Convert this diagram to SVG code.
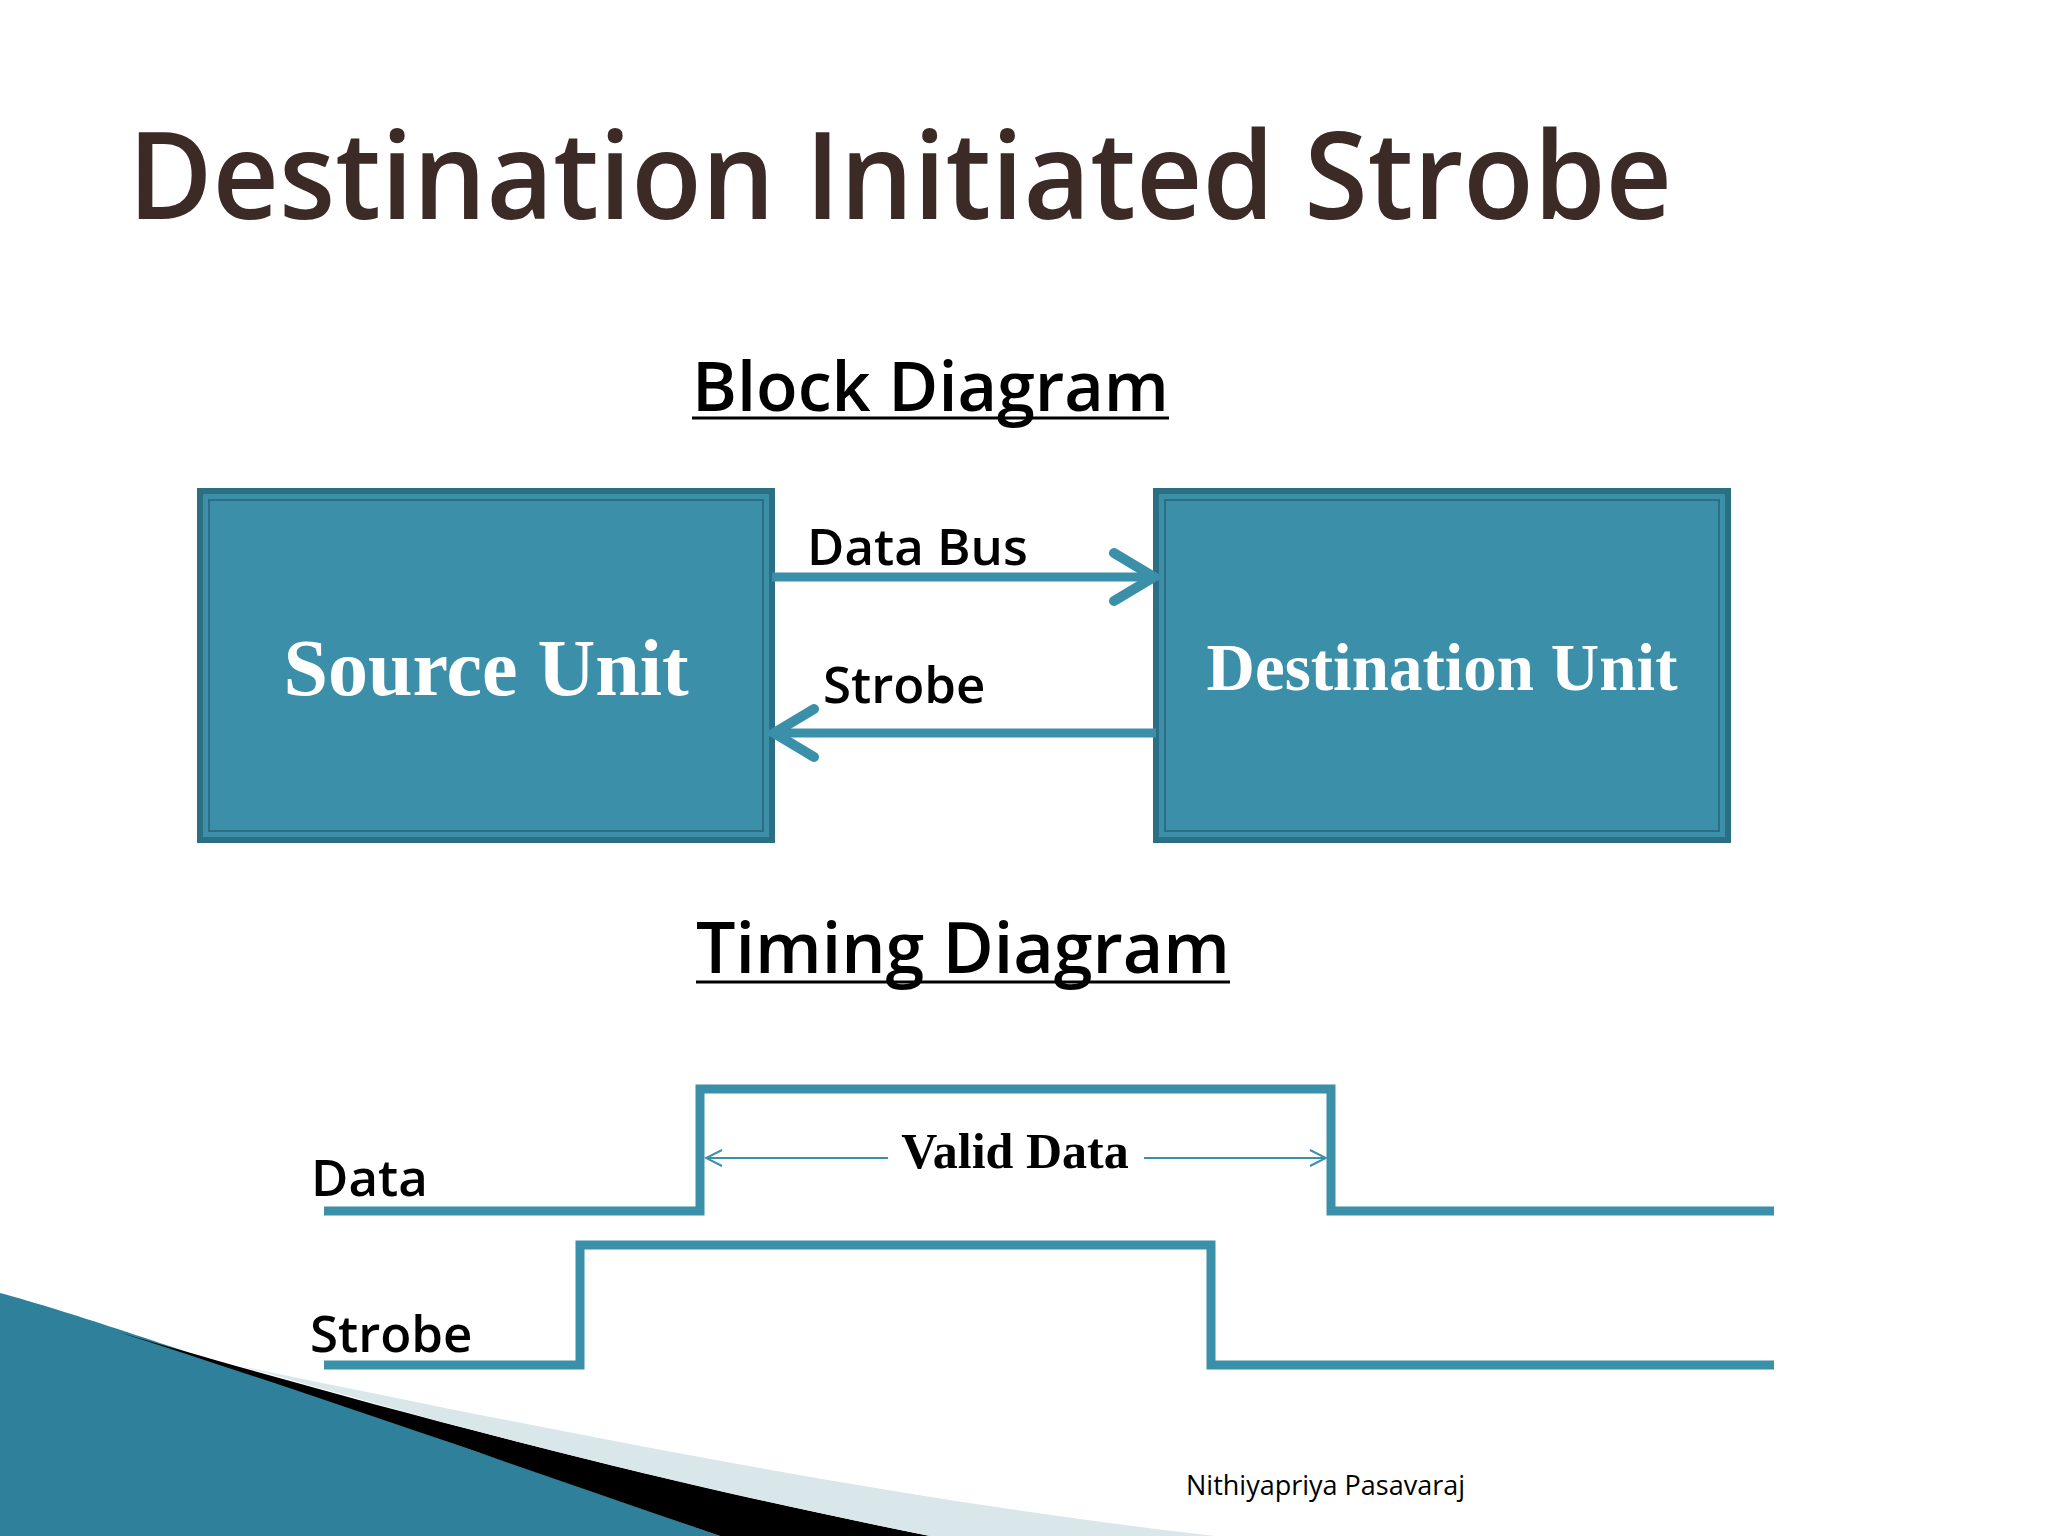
<svg xmlns="http://www.w3.org/2000/svg" width="2048" height="1536" viewBox="0 0 2048 1536">
<defs>
<style>
.sans{font-family:"Open Sans","DejaVu Sans",sans-serif;font-weight:600}
.ser{font-family:"Liberation Serif",serif;font-weight:bold}
.box{fill:#3b8fa9;stroke:#2c6f84;stroke-width:6}
.inner{fill:none;stroke:#2c6f84;stroke-width:2}
.sig{fill:none;stroke:#3a90a8;stroke-width:9}
.thin{stroke:#3a90a8;stroke-width:2;fill:none}
</style>
<marker id="ah" viewBox="0 0 20 20" refX="18" refY="10" markerWidth="20" markerHeight="20" markerUnits="userSpaceOnUse" orient="auto"><path d="M2 2 L18 10 L2 18" fill="none" stroke="#3a90a8" stroke-width="2"/></marker>
<marker id="big" viewBox="0 0 60 60" refX="54" refY="30" markerWidth="60" markerHeight="60" markerUnits="userSpaceOnUse" orient="auto"><path d="M14 6 L54 30 L14 54" fill="none" stroke="#3a90a8" stroke-width="10" stroke-linecap="round"/></marker>
</defs>
<rect width="2048" height="1536" fill="#fff"/>
<g id="swoosh">
<path d="M0 1293 C100 1320 300 1390 720 1536 L0 1536 Z" fill="#2f819b"/>
<path d="M118 1332 C300 1385 600 1470 930 1536 L720 1536 C500 1460 300 1390 118 1332 Z" fill="#000"/>
<path d="M240 1366 C600 1440 900 1500 1215 1536 L930 1536 C600 1470 400 1410 240 1366 Z" fill="#d9e6ea"/>
</g>
<text x="128" y="219" class="sans" font-size="122" fill="#3b2a26" textLength="1544" lengthAdjust="spacingAndGlyphs">Destination Initiated Strobe</text>
<text x="692" y="411" class="sans" font-size="68" textLength="477" lengthAdjust="spacingAndGlyphs">Block Diagram</text>
<line x1="692" y1="418" x2="1169" y2="418" stroke="#000" stroke-width="3"/>
<g id="source">
<rect class="box" x="200" y="491" width="572" height="349"/>
<rect class="inner" x="209" y="500" width="554" height="331"/>
<text x="486" y="695" class="ser" font-size="80" fill="#fff" text-anchor="middle">Source Unit</text>
</g>
<g id="dest">
<rect class="box" x="1156" y="491" width="572" height="349"/>
<rect class="inner" x="1165" y="500" width="554" height="331"/>
<text x="1442" y="690" class="ser" font-size="67" fill="#fff" text-anchor="middle">Destination Unit</text>
</g>
<g id="connectors">
<line x1="772" y1="577" x2="1154" y2="577" stroke="#3a90a8" stroke-width="9" marker-end="url(#big)"/>
<line x1="1156" y1="733" x2="774" y2="733" stroke="#3a90a8" stroke-width="9" marker-end="url(#big)"/>
</g>
<text x="807" y="565" class="sans" font-size="51">Data Bus</text>
<text x="823" y="703" class="sans" font-size="51">Strobe</text>
<text x="696" y="973" class="sans" font-size="70" textLength="534" lengthAdjust="spacingAndGlyphs">Timing Diagram</text>
<line x1="696" y1="982" x2="1230" y2="982" stroke="#000" stroke-width="3"/>
<text x="311" y="1196" class="sans" font-size="51">Data</text>
<text x="310" y="1352" class="sans" font-size="51">Strobe</text>
<path class="sig" d="M324 1211 H700 V1089 H1331 V1211 H1774"/>
<path class="sig" d="M324 1365 H580 V1245 H1211 V1365 H1774"/>
<line class="thin" x1="888" y1="1158" x2="706" y2="1158" marker-end="url(#ah)"/>
<line class="thin" x1="1144" y1="1158" x2="1326" y2="1158" marker-end="url(#ah)"/>
<text x="1015" y="1168" class="ser" font-size="50" text-anchor="middle">Valid Data</text>
<text x="1186" y="1495" class="sans" font-size="27" font-weight="400" style="font-weight:400">Nithiyapriya Pasavaraj</text>
</svg>
